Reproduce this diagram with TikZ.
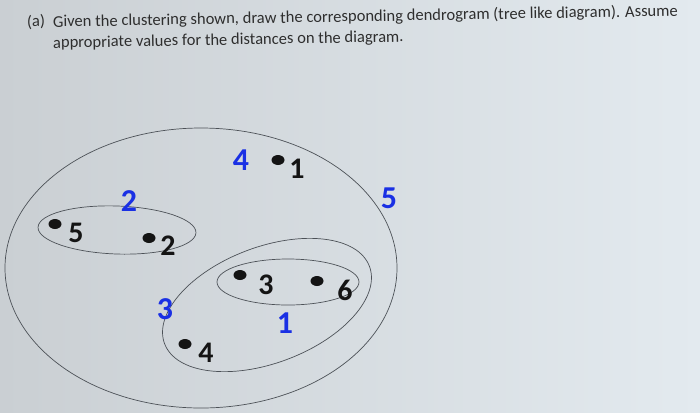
\documentclass[tikz,border=0pt]{standalone}
\usepackage{fontspec}
\setmainfont{Carlito}
\usetikzlibrary{shapes}

\definecolor{paperdark}{HTML}{CACFD3}
\definecolor{paperlight}{HTML}{E3EAEF}
\definecolor{penblue}{HTML}{1A30E4}
\definecolor{pencil}{HTML}{4C5157}

\begin{document}
\begin{tikzpicture}[x = 1bp, y = -1bp,every node/.style={font=\fontsize{30}{30}\selectfont\bfseries,inner sep=0pt},
  ring/.style={ellipse,draw=pencil,line width=.7bp,inner sep=0pt},
  pt/.style={ellipse,fill=black!92,minimum width=13bp,minimum height=10bp},
  num/.style={text=black!92},
  dist/.style={text=penblue,font=\fontsize{32}{32}\selectfont\bfseries},
  qline/.style={anchor=base west,rotate=1,font=\fontsize{16.6}{19}\selectfont,text=black!82}]
\shade[left color=paperdark,right color=paperlight] (0,0) rectangle (700,412);
\useasboundingbox (0,0) rectangle (700,412);
% question text
\node[qline] (qa) at (27,27) {(a)};
\node[qline] (qline1) at (53,27) {Given the clustering shown, draw the corresponding dendrogram (tree like diagram). Assume};
\node[qline] (qline2) at (53,48) {appropriate values for the distances on the diagram.};
% clusters
\node[ring,minimum width=392bp,minimum height=280bp] (call) at (201,268) {};
\node[ring,minimum width=158bp,minimum height=48bp,rotate=-2] (c25) at (117,230) {};
\node[ring,minimum width=219bp,minimum height=116bp,rotate=20.7] (c346) at (267,305) {};
\node[ring,minimum width=142bp,minimum height=46bp] (c36) at (288,282) {};
% points
\node[pt] (p1) at (278,160) {};
\node[pt] (p2) at (149,238) {};
\node[pt] (p3) at (240,275) {};
\node[pt] (p4) at (185,344) {};
\node[pt] (p5) at (55,224) {};
\node[pt] (p6) at (317,281) {};
\node[num] (lab1) at (297,169) {1};
\node[num] (lab2) at (168,246) {2};
\node[num] (lab3) at (266,285) {3};
\node[num] (lab4) at (206,353) {4};
\node[num] (lab5) at (76,233) {5};
\node[num] (lab6) at (345,290) {6};
% distances
\node[dist] (d1) at (285,323) {1};
\node[dist] (d2) at (129,201) {2};
\node[dist] (d3) at (165,309) {3};
\node[dist] (d4) at (241,160) {4};
\node[dist] (d5) at (389,198) {5};
\end{tikzpicture}
\end{document}
